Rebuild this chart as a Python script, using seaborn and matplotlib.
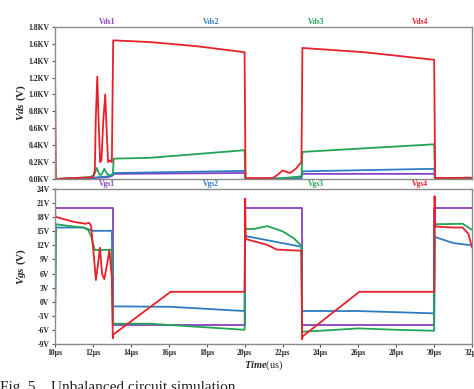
import numpy as np
import pandas as pd
import matplotlib
matplotlib.use("Agg")
import matplotlib.pyplot as plt
import seaborn as sns

sns.set_style("white")
plt.rcParams["font.family"] = ["Liberation Serif", "DejaVu Serif"]
plt.rcParams["mathtext.fontset"] = "custom"
plt.rcParams["mathtext.it"] = "Liberation Serif:italic:bold"
plt.rcParams["mathtext.rm"] = "Liberation Serif:bold"

# ---- Vds traces (V) ----
t_vds1 = [10.0, 10.1, 12.0, 12.8, 13.05, 13.1, 20.0, 20.05, 23.0, 23.05, 30.0, 30.05, 32.0]
vds1 = [0, 0, 10, 20, 40, 60, 70, 0, 5, 60, 60, 5, 5]

t_vds2 = [10.0, 10.1, 12.0, 12.8, 13.05, 13.1, 20.0, 20.05, 23.0, 23.05, 30.0, 30.05, 32.0]
vds2 = [0, 0, 15, 30, 50, 70, 95, 0, 10, 90, 120, 5, 5]

t_vds3 = [10.0, 10.1, 11.8, 12.05, 12.2, 12.35, 12.45, 12.6, 12.75, 12.9, 13.05, 13.1,
          15.0, 20.0, 20.05, 21.5, 22.5, 23.0, 23.05, 30.0, 30.05, 32.0]
vds3 = [0, 0, 20, 40, 130, 50, 50, 120, 60, 40, 60, 240,
        250, 340, 0, 0, 20, 30, 320, 410, 5, 5]

t_vds4 = [10.0, 10.05, 12.0, 12.1, 12.15, 12.23, 12.3, 12.38, 12.45, 12.55, 12.65, 12.72,
          12.8, 12.9, 13.0, 13.07, 15.0, 17.5, 20.0, 20.05, 21.5, 21.8, 22.0, 22.4, 22.7,
          23.0, 23.05, 26.3, 30.0, 30.05, 32.0]
vds4 = [1300, 0, 20, 100, 700, 1210, 700, 200, 220, 700, 1000, 600,
        200, 220, 200, 1640, 1620, 1570, 1500, 10, 10, 60, 100, 70, 120,
        200, 1550, 1500, 1410, 10, 15]

# ---- Vgs traces (V) ----
t_vgs1 = [10.0, 13.05, 13.05, 20.03, 20.03, 23.03, 23.03, 30.0, 30.0, 32.0]
vgs1 = [20, 20, -5, -5, 20, 20, -5, -5, 20, 20]

t_vgs2 = [10.0, 10.05, 11.5, 12.0, 13.0, 13.05, 16.1, 20.0, 20.03, 23.0, 23.03, 26.0,
          30.0, 30.03, 31.0, 32.0]
vgs2 = [-6, 15.8, 15.8, 15.1, 15.1, -1.0, -1.1, -2.0, 14.0, 11.7, -2.0, -2.0,
        -2.5, 13.8, 12.5, 12.0]

t_vgs3 = [10.0, 10.05, 11.0, 11.5, 11.75, 11.9, 12.1, 12.5, 13.0, 13.05, 15.0, 20.0,
          20.03, 20.5, 21.2, 22.0, 22.6, 23.0, 23.03, 24.0, 26.0, 28.0, 30.0, 30.03,
          31.5, 32.0]
vgs3 = [-6, 16.5, 16.0, 15.8, 15.3, 14.0, 11.0, 11.0, 11.1, -4.7, -4.7, -6.0,
        15.5, 15.5, 16.1, 15.0, 13.5, 11.9, -6.4, -6.2, -5.7, -6.0, -6.2, 16.5,
        16.6, 15.3]

t_vgs4 = [10.0, 10.02, 10.1, 11.0, 11.6, 11.8, 11.9, 12.0, 12.16, 12.27, 12.37, 12.48,
          12.6, 12.75, 12.87, 13.0, 13.05, 13.08, 16.1, 20.0, 20.03, 20.06, 20.1, 21.2,
          21.7, 23.0, 23.03, 23.06, 26.05, 30.0, 30.02, 30.05, 30.1, 31.0, 31.5, 31.8,
          32.0]
vgs4 = [21.5, 18.2, 18.0, 17.0, 16.6, 16.8, 16.2, 12.0, 4.6, 8.0, 11.5, 6.0,
        4.8, 8.0, 11.0, 5.0, -7.8, -7.0, 2.1, 2.1, 22.0, 13.8, 13.3, 12.1,
        11.1, 10.85, -8.0, -7.4, 2.1, 2.1, 22.5, 16.5, 16.0, 15.8, 15.8, 14.5,
        11.5]

colors = {"1": "#8b3fc4", "2": "#2e7cc0", "3": "#22a455", "4": "#e8202a"}
vds_ticks = [0, 200, 400, 600, 800, 1000, 1200, 1400, 1600, 1800]
vds_labels = ["0.0KV", "0.2KV", "0.4KV", "0.6KV", "0.8KV", "1.0KV", "1.2KV", "1.4KV", "1.6KV", "1.8KV"]
vgs_ticks = [-9, -6, -3, 0, 3, 6, 9, 12, 15, 18, 21, 24]
vgs_labels = ["-9V", "-6V", "-3V", "0V", "3V", "6V", "9V", "12V", "15V", "18V", "21V", "24V"]
time_ticks = [10, 12, 14, 16, 18, 20, 22, 24, 26, 28, 30, 32]
time_labels = [f"{t}\u00b5s" for t in time_ticks]

vds = [("1", t_vds1, vds1), ("2", t_vds2, vds2), ("3", t_vds3, vds3), ("4", t_vds4, vds4)]
vgs = [("1", t_vgs1, vgs1), ("2", t_vgs2, vgs2), ("3", t_vgs3, vgs3), ("4", t_vgs4, vgs4)]

fig = plt.figure(figsize=(4.74, 3.89), dpi=100)
ax1 = fig.add_axes([0.116, 0.540, 0.880, 0.391])
ax2 = fig.add_axes([0.116, 0.116, 0.880, 0.398])

for ax, series, name in [(ax1, vds, "Vds"), (ax2, vgs, "Vgs")]:
    for key, t, v in series:
        df = pd.DataFrame({"t": t, "v": v})
        sns.lineplot(data=df, x="t", y="v", ax=ax, color=colors[key], lw=1.3,
                     estimator=None, sort=False)
        pos = (int(key) - 0.5) / 4
        ax.text(pos, 1.005, f"{name}{key}", transform=ax.transAxes, ha="center",
                va="bottom", fontsize=5.5, fontweight="bold", color=colors[key])
    ax.set_xlim(10, 32)
    ax.set_xticks(time_ticks)
    for s in ax.spines.values():
        s.set_color("#8a8a8a")
        s.set_linewidth(1.0)
    ax.tick_params(direction="out", length=2.5, width=0.8, color="#555555",
                   labelsize=5.5, pad=1.5, left=True, bottom=True)

ax1.set_ylim(0, 1800)
ax1.set_yticks(vds_ticks)
ax1.set_yticklabels(vds_labels, fontweight="bold")
ax1.set_xticklabels([])
ax1.tick_params(axis="x", length=0)
ax1.set_xlabel("")
ax1.set_ylabel(r"$Vds$ (V)", fontsize=8, fontweight="bold")
ax1.yaxis.set_label_coords(-0.065, 0.5)

ax2.set_ylim(-9, 24)
ax2.set_yticks(vgs_ticks)
ax2.set_yticklabels(vgs_labels, fontweight="bold")
ax2.set_xticklabels(time_labels, fontweight="bold")
ax2.set_xlabel(r"$Time$(us)", fontsize=7.5, labelpad=1)
ax2.set_ylabel(r"$Vgs$ (V)", fontsize=8, fontweight="bold")
ax2.yaxis.set_label_coords(-0.065, 0.5)

fig.text(0.0, 0.02, "Fig. 5    Unbalanced circuit simulation", fontsize=11,
         va="top", ha="left", color="#222222")

fig.savefig("out.png", dpi=100)
